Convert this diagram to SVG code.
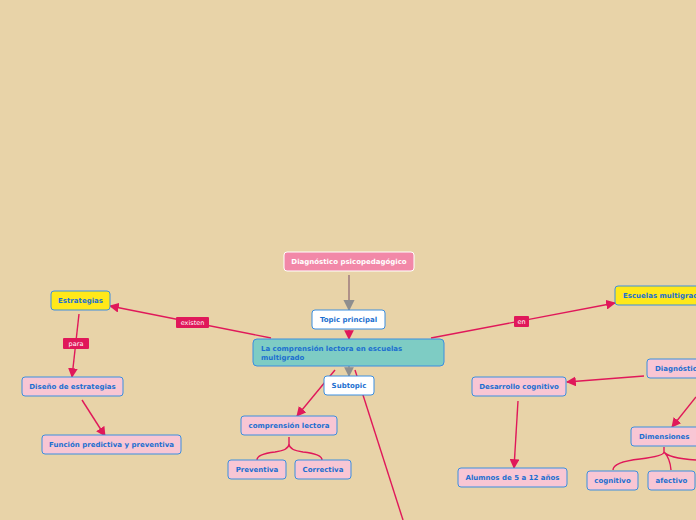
<svg xmlns="http://www.w3.org/2000/svg" width="696" height="520" viewBox="0 0 696 520">
<defs>
<marker id="a" viewBox="0 0 10 10" refX="9" refY="5" markerWidth="7" markerHeight="7" orient="auto"><path d="M0,0L10,5L0,10z" fill="#E0185A"/></marker>
<marker id="g" viewBox="0 0 10 10" refX="9" refY="5" markerWidth="7" markerHeight="7" orient="auto"><path d="M0,0L10,5L0,10z" fill="#8E8E8E"/></marker>
<style>
text{font-family:"DejaVu Sans",Verdana,sans-serif;font-weight:bold;font-size:7px;fill:#1C6FD0}
.n{fill:#F8C6D4;stroke:#3B8EE0;stroke-width:1}
.w{fill:#fff;stroke:#3B8EE0}
.y{fill:#FFE81A;stroke:#3B8EE0}
.c{stroke:#E0185A;stroke-width:1.4;fill:none}
.l{fill:#E0185A}
.lt{fill:#fff;font-weight:normal;font-size:6.5px}
</style>
</defs>
<rect width="696" height="520" fill="#E8D3A8"/>
<g id="connectors">
<line x1="349" y1="275" x2="349" y2="310" stroke="#A08080" stroke-width="1.6" marker-end="url(#g)"/>
<line x1="349" y1="330" x2="349" y2="339" class="c" marker-end="url(#a)"/>
<line x1="349" y1="366" x2="349" y2="376" stroke="#8E8E8E" stroke-width="1.4" marker-end="url(#g)"/>
<line x1="271" y1="338" x2="110" y2="306" class="c" marker-end="url(#a)"/>
<line x1="79" y1="314" x2="72" y2="377" class="c" marker-end="url(#a)"/>
<line x1="82" y1="400" x2="105" y2="436" class="c" marker-end="url(#a)"/>
<line x1="431" y1="338" x2="615" y2="303" class="c" marker-end="url(#a)"/>
<line x1="335" y1="370" x2="297" y2="416" class="c" marker-end="url(#a)"/>
<line x1="355" y1="370" x2="403" y2="520" class="c"/>
<path d="M289,437 V444 Q289,450 275,452 Q257,454 257,460 M289,444 Q289,450 303,452 Q322,454 322,460" class="c"/>
<line x1="644" y1="376" x2="567" y2="382" class="c" marker-end="url(#a)"/>
<line x1="518" y1="401" x2="514" y2="468" class="c" marker-end="url(#a)"/>
<line x1="696" y1="397" x2="672" y2="427" class="c" marker-end="url(#a)"/>
<path d="M664,447 V452 Q664,456 640,459 Q613,462 613,470 M664,452 Q670,458 671,470 M664,452 Q668,458 696,460" class="c"/>
<rect x="176" y="317" width="33" height="11" rx="1" class="l"/><text x="192.5" y="325" text-anchor="middle" class="lt">existen</text>
<rect x="63" y="338" width="26" height="11" rx="1" class="l"/><text x="76" y="346" text-anchor="middle" class="lt">para</text>
<rect x="514" y="316" width="15" height="11" rx="1" class="l"/><text x="521.5" y="324" text-anchor="middle" class="lt">en</text>
</g>
<g id="n1"><rect x="284" y="252" width="130" height="19" rx="3" fill="#F288A8" stroke="#fff"/><text x="349" y="264" text-anchor="middle" style="fill:#fff">Diagnóstico psicopedagógico</text></g>
<g id="n2"><rect x="312" y="310" width="73" height="19" rx="3" class="w"/><text x="348.5" y="322" text-anchor="middle">Topic principal</text></g>
<g id="n3"><rect x="253" y="339" width="191" height="27" rx="4" fill="#7ECCC4" stroke="#3B8EE0"/><text x="261" y="351">La comprensión lectora en escuelas</text><text x="261" y="360">multigrado</text></g>
<g id="n4"><rect x="324" y="376" width="50" height="19" rx="3" class="w"/><text x="349" y="388" text-anchor="middle">Subtopic</text></g>
<g id="n5"><rect x="51" y="291" width="59" height="19" rx="3" class="y"/><text x="80.5" y="303" text-anchor="middle">Estrategias</text></g>
<g id="n6"><rect x="615" y="286" width="90" height="19" rx="3" class="y"/><text x="623" y="298">Escuelas multigrado</text></g>
<g id="n7"><rect x="22" y="377" width="101" height="19" rx="3" class="n"/><text x="72.5" y="389" text-anchor="middle">Diseño de estrategias</text></g>
<g id="n8"><rect x="42" y="435" width="139" height="19" rx="3" class="n"/><text x="111.5" y="447" text-anchor="middle">Función predictiva y preventiva</text></g>
<g id="n9"><rect x="241" y="416" width="96" height="19" rx="3" class="n"/><text x="289" y="428" text-anchor="middle">comprensión lectora</text></g>
<g id="n10"><rect x="228" y="460" width="58" height="19" rx="3" class="n"/><text x="257" y="472" text-anchor="middle">Preventiva</text></g>
<g id="n11"><rect x="295" y="460" width="56" height="19" rx="3" class="n"/><text x="323" y="472" text-anchor="middle">Correctiva</text></g>
<g id="n12"><rect x="472" y="377" width="94" height="19" rx="3" class="n"/><text x="519" y="389" text-anchor="middle">Desarrollo cognitivo</text></g>
<g id="n13"><rect x="458" y="468" width="109" height="19" rx="3" class="n"/><text x="512.5" y="480" text-anchor="middle">Alumnos de 5 a 12 años</text></g>
<g id="n14"><rect x="647" y="359" width="60" height="19" rx="3" class="n"/><text x="655" y="371">Diagnóstico</text></g>
<g id="n15"><rect x="631" y="427" width="75" height="19" rx="3" class="n"/><text x="639" y="439">Dimensiones</text></g>
<g id="n16"><rect x="587" y="471" width="51" height="19" rx="3" class="n"/><text x="612.5" y="483" text-anchor="middle">cognitivo</text></g>
<g id="n17"><rect x="648" y="471" width="47" height="19" rx="3" class="n"/><text x="671.5" y="483" text-anchor="middle">afectivo</text></g>
</svg>
